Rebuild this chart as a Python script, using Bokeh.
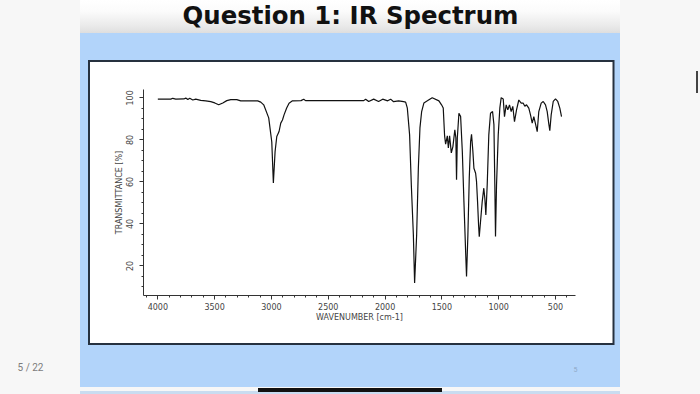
from bokeh.plotting import figure
from bokeh.layouts import column
from bokeh.models import Range1d, SingleIntervalTicker
from bokeh.core.properties import value
from bokeh.embed import file_html
from bokeh.resources import INLINE

# ---- data ----
wavenumber = [4000, 3886, 3868, 3842, 3771, 3754, 3736, 3719, 3692, 3666, 3622, 3578, 3534, 3499,
              3464, 3428, 3393, 3358, 3305, 3270, 3121, 3094, 3068, 3024, 2997, 2983, 2968, 2953,
              2933, 2918, 2903, 2889, 2866, 2845, 2815, 2740, 2716, 2700, 2188, 2171, 2144, 2100,
              2057, 2021, 1977, 1951, 1925, 1881, 1837, 1819, 1804, 1784, 1769, 1751, 1740, 1722,
              1707, 1693, 1678, 1658, 1628, 1585, 1526, 1503, 1488, 1476, 1467, 1452, 1443, 1432,
              1417, 1403, 1386, 1377, 1371, 1364, 1350, 1335, 1320, 1306, 1291, 1283, 1271, 1259,
              1247, 1239, 1227, 1218, 1203, 1195, 1186, 1177, 1171, 1160, 1145, 1131, 1122, 1113,
              1101, 1087, 1072, 1054, 1042, 1034, 1028, 1019, 1004, 990, 978, 960, 949, 934, 920,
              905, 890, 876, 861, 843, 823, 802, 784, 770, 755, 735, 720, 705, 691, 676, 661, 647,
              626, 608, 588, 573, 559, 550, 538, 520, 500, 480, 462, 447]
transmittance = [99.4, 99.4, 99.8, 99.4, 99.5, 99.9, 99.2, 99.8, 99.0, 99.4, 98.8, 98.6, 98.2, 97.6,
                 96.7, 97.6, 98.7, 99.2, 99.2, 98.6, 98.6, 98.0, 96.7, 90.5, 79.0, 59.5, 74.4, 81.6,
                 84.0, 88.0, 89.5, 91.9, 95.2, 97.5, 98.6, 98.7, 99.4, 98.7, 98.7, 99.4, 98.3, 99.4,
                 98.3, 99.4, 98.6, 99.4, 98.2, 98.6, 98.2, 98.0, 95.1, 82.4, 58.6, 34.8, 11.9, 34.8,
                 66.7, 85.7, 93.5, 97.6, 98.6, 100.1, 98.6, 96.7, 95.2, 81.9, 78.0, 81.9, 76.2, 81.9,
                 73.8, 76.8, 84.8, 81.0, 61.0, 81.0, 92.7, 91.1, 74.4, 50.6, 26.8, 14.9, 34.8, 61.8,
                 79.2, 82.7, 74.4, 66.5, 64.1, 60.1, 50.6, 39.5, 33.9, 41.0, 50.6, 57.0, 52.2, 44.3,
                 58.6, 82.4, 92.7, 93.5, 87.3, 58.6, 34.0, 58.6, 82.4, 95.1, 100.1, 99.5, 91.1, 96.7, 94.3,
                 96.7, 93.5, 96.0, 88.7, 94.3, 99.0, 97.5, 97.5, 96.0, 96.7, 95.1, 91.9, 88.0, 91.1, 87.6, 83.9, 93.5,
                 97.5, 98.3, 96.7, 93.5, 87.6, 84.4, 91.9, 98.3, 99.5, 98.3, 95.1, 91.1]

title_text = "Question 1: IR Spectrum"
x_label = "WAVENUMBER [cm-1]"
y_label = "TRANSMITTANCE [%]"
page_text = "5 / 22"
slide_num = "5"

W = 700
TOP_H, MAIN_H = 60, 270
BOT_H = 394 - TOP_H - MAIN_H

# ---- slide decoration: CSS background layers behind transparent canvases ----
def layer(color, x, y, w, h):
    return (f"linear-gradient({color},{color})", f"{x}px {y}px", f"{w}px {h}px")

layers = [
    layer("#111111", 258, 388, 184, 4),                     # home bar
    layer("#444444", 696, 71, 2, 22),                       # cursor
    layer("#ffffff", 89.5, 61.5, 522.5, 281),               # white panel
    layer("#26313f", 87.5, 59.5, 526.5, 285),               # panel border
    ("linear-gradient(to bottom,#ffffff 0%,#fbfbfb 35%,#e9e9e9 80%,#dedede 100%)", "80px 0px", "540px 33px"),
    layer("#b2d4fa", 80, 33, 540, 354),                     # blue slide
    layer("#c9dcf0", 80, 390.5, 540, 3.5),                  # next slide edge
]
css = {
    "background-color": "#f7f7f7",
    "background-image": ",".join(l[0] for l in layers),
    "background-position": ",".join(l[1] for l in layers),
    "background-size": ",".join(l[2] for l in layers),
    "background-repeat": "no-repeat",
}


def bare(h, y0):
    f = figure(width=W, height=h, output_backend="svg", toolbar_location=None, title=None,
               x_range=Range1d(0, W), y_range=Range1d(y0 + h, y0),
               x_axis_location=None, y_axis_location=None, frame_align=False,
               min_border=0, min_border_left=0, min_border_right=0,
               min_border_top=0, min_border_bottom=0)
    f.background_fill_alpha = 0
    f.border_fill_alpha = 0
    f.outline_line_color = None
    f.grid.visible = False
    return f


# top strip with the slide title
top = bare(TOP_H, 0)
top.text(x=[350], y=[15], text=[title_text], text_align="center", text_baseline="alphabetic",
         text_font=value("DejaVu Sans"), text_font_style="bold", text_font_size="24.4px",
         text_color="#111111")

# main spectrum plot
p = figure(width=W, height=MAIN_H, output_backend="svg", toolbar_location=None, title=None,
           x_range=Range1d(4126, 324), y_range=Range1d(5.9, 104), frame_align=False,
           min_border_left=143, min_border_right=125, min_border_top=29, min_border_bottom=35)
p.background_fill_alpha = 0
p.border_fill_alpha = 0
p.outline_line_color = None
p.grid.visible = False

p.line(wavenumber, transmittance, line_color="#111111", line_width=1.2)

p.xaxis.ticker = SingleIntervalTicker(interval=500, num_minor_ticks=5)
p.yaxis.ticker = SingleIntervalTicker(interval=20, num_minor_ticks=4)
for ax in (p.xaxis[0], p.yaxis[0]):
    ax.axis_line_color = "#333333"
    ax.major_tick_line_color = "#333333"
    ax.minor_tick_line_color = "#333333"
    ax.major_tick_in = 0
    ax.major_tick_out = 4
    ax.minor_tick_in = 0
    ax.minor_tick_out = 2
    ax.major_label_text_font = "DejaVu Sans"
    ax.major_label_text_font_size = "8px"
    ax.major_label_text_color = "#444444"
    ax.axis_label_text_font = "DejaVu Sans"
    ax.axis_label_text_font_size = "8px"
    ax.axis_label_text_font_style = "normal"
    ax.axis_label_text_color = "#444444"
p.xaxis.axis_label = x_label
p.yaxis.axis_label = y_label
p.xaxis.major_label_standoff = 3
p.xaxis.axis_label_standoff = 0
p.yaxis.major_label_orientation = "vertical"
p.yaxis.major_label_standoff = 6
p.yaxis.axis_label_standoff = 0

# bottom strip with page counters
bot = bare(BOT_H, TOP_H + MAIN_H)
bot.text(x=[30], y=[366.5], text=[page_text], text_align="center", text_baseline="alphabetic",
         text_font=value("Roboto"), text_font_size="10px", text_color="#7c7c7c")
bot.text(x=[575], y=[369], text=[slide_num], text_align="center", text_baseline="alphabetic",
         text_font=value("Roboto"), text_font_size="7px", text_color="#8fa9c6")

layout = column(top, p, bot, spacing=0, styles=css)

open("out.html", "w").write(file_html(layout, INLINE))
